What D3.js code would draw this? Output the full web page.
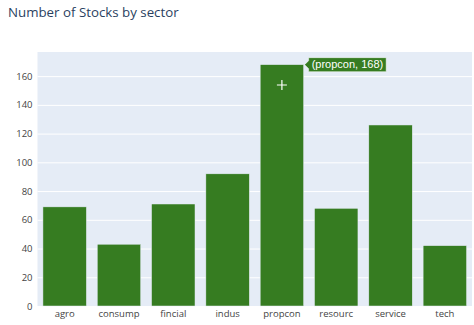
<!DOCTYPE html>
<html><head><meta charset="utf-8">
<script src="https://cdn.jsdelivr.net/npm/d3@7"></script>
<style>body{margin:0;background:#fff}svg{display:block}</style>
</head><body>
<script>
const categories = ["agro","consump","fincial","indus","propcon","resourc","service","tech"];
const values = [69,43,71,92,168,68,126,42];
const yTicks = [0,20,40,60,80,100,120,140,160];
const title = "Number of Stocks by sector";
const hoverIndex = 4;

const W = 474, H = 325;
const m = {l: 37.5, r: 2, t: 52, b: 19};
const svg = d3.select("body").append("svg").attr("width", W).attr("height", H);
const font = "'Open Sans', sans-serif";
const x = d3.scaleBand().domain(categories).range([m.l, W - m.r]).paddingInner(0.2).paddingOuter(0.1);
const y = d3.scaleLinear().domain([0, 176.8]).range([H - m.b, m.t]);

svg.append("rect").attr("x", m.l).attr("y", m.t).attr("width", W - m.r - m.l).attr("height", H - m.b - m.t).attr("fill", "#e5ecf6");

const yAxis = svg.append("g").attr("transform", `translate(${m.l},0)`)
  .call(d3.axisLeft(y).tickValues(yTicks).tickSize(-(W - m.r - m.l)).tickPadding(5));
yAxis.select(".domain").remove();
yAxis.selectAll("line").attr("stroke", d => d === 0 ? "none" : "#fff").attr("stroke-width", 1);
yAxis.selectAll("text").attr("fill", "#444").style("font-family", font).style("font-size", "9.5px");

const xAxis = svg.append("g").attr("transform", `translate(0,${H - m.b})`)
  .call(d3.axisBottom(x).tickSize(0).tickPadding(4));
xAxis.select(".domain").remove();
xAxis.selectAll("text").attr("fill", "#444").style("font-family", font).style("font-size", "9.5px");

svg.append("g").selectAll("rect").data(categories).join("rect")
  .attr("x", d => x(d)).attr("width", x.bandwidth())
  .attr("y", (d, i) => y(values[i])).attr("height", (d, i) => y(0) - y(values[i]))
  .attr("fill", "#367c21").attr("stroke", "#e5ecf6").attr("stroke-width", 0.5);

svg.append("text").attr("x", 8).attr("y", 17).text(title)
  .attr("fill", "#2a3f5f").style("font-family", font).style("font-size", "13.3px");

// hover label
const hx = x(categories[hoverIndex]) + x.bandwidth() + 1, hy = y(values[hoverIndex]);
const hl = svg.append("g").attr("transform", `translate(${hx},${hy})`);
const lbl = `(${categories[hoverIndex]}, ${values[hoverIndex]})`;
const t = hl.append("text").attr("x", 7).attr("y", 3.8).text(lbl).attr("fill", "#fff")
  .style("font-family", "Arial, 'Liberation Sans', sans-serif").style("font-size", "11px");
const tw = t.node().getComputedTextLength();
hl.insert("path", "text")
  .attr("d", `M0,0L4,-4V-7H${tw + 10}V7H4V4Z`)
  .attr("fill", "#367c21").attr("stroke", "#fff").attr("stroke-width", 0.5);

// cursor crosshair
const cx = x(categories[hoverIndex]) + x.bandwidth() / 2, cy = 85;
svg.append("path").attr("d", `M${cx - 5},${cy}H${cx + 5}M${cx},${cy - 5}V${cy + 5}`)
  .attr("stroke", "#fff").attr("stroke-width", 1.2);
</script>
</body></html>
